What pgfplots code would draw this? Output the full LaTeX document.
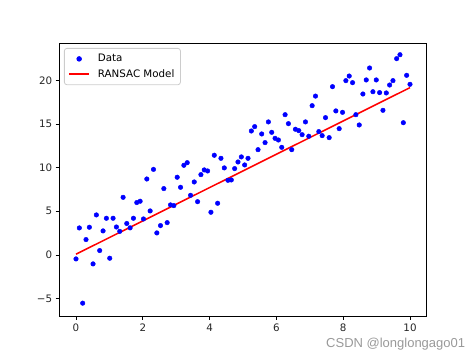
\documentclass[border=0pt]{standalone}
\usepackage{pgfplots}
\pgfplotsset{compat=1.18}
\usepackage{fontspec}
\setmainfont{DejaVu Sans}
\newfontfamily\wmfont{Liberation Sans}
\definecolor{mplblue}{RGB}{0,0,255}
\definecolor{mplred}{RGB}{255,0,0}
\definecolor{legedge}{RGB}{204,204,204}
\begin{document}
\begin{tikzpicture}
\begin{axis}[
  width=367.4pt, height=272.7pt, scale only axis,
  xmin=-0.5, xmax=10.5, ymin=-7, ymax=24.25,
  xtick={0,2,4,6,8,10},
  ytick={-5,0,5,10,15,20},
  yticklabels={−5,0,5,10,15,20},
  tick pos=left, tick align=outside,
  major tick length=3.6pt,
  every tick/.style={black, line width=0.82pt},
  axis line style={black, line width=0.82pt},
  tick label style={font=\fontsize{10.3}{12}\selectfont, text=black!85},
  xticklabel style={yshift=-0.6pt},
  /pgf/number format/assume math mode=true,
  legend style={at={(0,1)}, anchor=north west, xshift=4.7pt, yshift=-4.7pt,
    draw=legedge, rounded corners=2.5pt, line width=0.8pt,
    font=\fontsize{10.3}{12}\selectfont, inner xsep=4pt, inner ysep=4pt,
    row sep=2pt},
  legend cell align=left,
]
\addplot[only marks, mark=*, mark size=2.3pt, color=mplblue,
  legend image code/.code={\fill[mplblue] (10pt,0) circle (2.3pt);\path (0,0) (26pt,0);}]
  coordinates {
(0.00,-0.46) (0.10,3.09) (0.20,-5.53) (0.30,1.76) (0.40,3.17) (0.51,-1.03) (0.61,4.58) (0.71,0.50) (0.81,2.75) (0.91,4.20)
(1.01,-0.38) (1.11,4.20) (1.21,3.20) (1.31,2.70) (1.41,6.60) (1.52,3.60) (1.62,3.10) (1.72,4.20) (1.82,6.00) (1.92,6.15)
(2.02,4.12) (2.12,8.70) (2.22,5.04) (2.32,9.80) (2.42,2.52) (2.53,3.36) (2.63,7.60) (2.73,3.70) (2.83,5.73) (2.93,5.65)
(3.03,8.90) (3.13,7.75) (3.23,10.27) (3.33,10.57) (3.43,6.83) (3.54,8.36) (3.64,6.10) (3.74,9.20) (3.84,9.74) (3.94,9.62)
(4.04,4.89) (4.14,11.42) (4.24,5.92) (4.34,11.07) (4.44,9.97) (4.55,8.55) (4.65,8.59) (4.75,9.89) (4.85,10.65) (4.95,11.23)
(5.05,10.31) (5.15,11.07) (5.25,14.20) (5.35,14.70) (5.45,12.06) (5.56,13.86) (5.66,12.87) (5.76,15.24) (5.86,14.05) (5.96,13.36)
(6.06,13.17) (6.16,12.33) (6.26,16.07) (6.36,15.04) (6.46,12.06) (6.57,14.40) (6.67,14.24) (6.77,13.78) (6.87,15.24) (6.97,13.60)
(7.07,17.10) (7.17,18.20) (7.27,14.13) (7.37,13.67) (7.47,15.73) (7.58,13.44) (7.68,19.28) (7.78,16.50) (7.88,14.47) (7.98,16.34)
(8.08,19.97) (8.18,20.50) (8.28,19.74) (8.38,16.07) (8.48,14.89) (8.59,18.44) (8.69,20.05) (8.79,21.42) (8.89,18.70) (8.99,20.05)
(9.09,18.60) (9.19,16.57) (9.29,18.56) (9.39,19.47) (9.49,19.97) (9.60,22.49) (9.70,22.94) (9.80,15.15) (9.90,20.58) (10.00,19.55)
  };
\addlegendentry{Data}
\addplot[mplred, line width=1.54pt,
  legend image code/.code={\draw[mplred, line width=1.54pt] (0,0) -- (20pt,0);\path (26pt,0);}]
  coordinates {(0,0.08) (10,19.17)};
\addlegendentry{RANSAC Model}
\end{axis}
\path (current axis.south west) ++(-59.3pt,-39pt) coordinate (bbsw);
\path (current axis.north east) ++(47.3pt,43.3pt) coordinate (bbne);
\path (bbsw) rectangle (bbne);
\node[anchor=base west, inner sep=0pt, text=black!40, font=\wmfont\fontsize{13}{15}\selectfont]
  at ([xshift=266.7pt, yshift=-32pt]current axis.south west) {CSDN @longlongago01};
\end{tikzpicture}
\end{document}
